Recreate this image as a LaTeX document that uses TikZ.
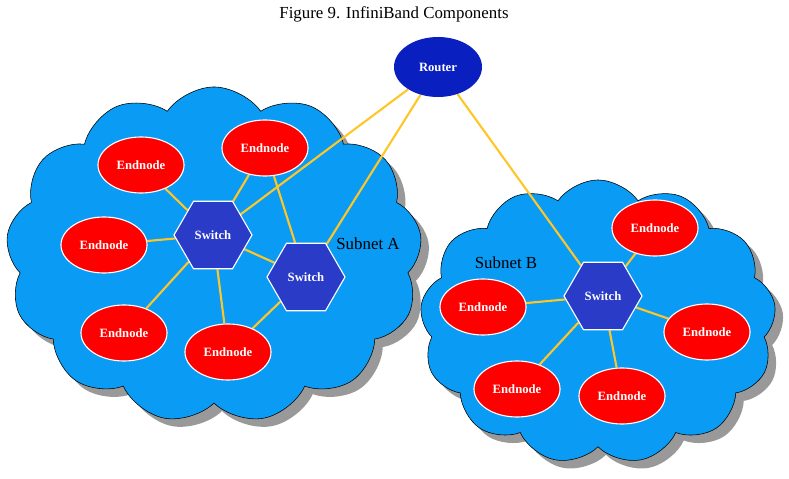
\documentclass[tikz,border=0pt]{standalone}
\usepackage{fontspec}
\setmainfont{Liberation Serif}
\usetikzlibrary{shapes.symbols,shapes.geometric}
\pgfdeclarelayer{back}
\pgfdeclarelayer{mid}
\pgfsetlayers{back,mid,main}
\definecolor{sky}{HTML}{0A9BF5}
\definecolor{routerblue}{HTML}{0A1FBF}
\definecolor{switchblue}{HTML}{2A3BC8}
\definecolor{linkyellow}{HTML}{FFC629}
\tikzset{
  subnet/.style={cloud, cloud puffs=13, cloud puff arc=110, aspect=1.2, draw=black, fill=sky, inner sep=0pt},
  shade/.style={cloud, cloud puffs=13, cloud puff arc=110, aspect=1.2, fill=gray!80, inner sep=0pt},
  endnode/.style={ellipse, fill=red, draw=white, thick, text=white, font=\bfseries\small, minimum width=2.15cm, minimum height=1.4cm, inner sep=0pt},
  switch/.style={regular polygon, regular polygon sides=6, fill=switchblue, draw=white, thick, text=white, font=\bfseries\small, minimum size=1.95cm, inner sep=0pt},
  router/.style={ellipse, fill=routerblue, text=white, font=\bfseries\small, minimum width=2.2cm, minimum height=1.5cm},
  link/.style={linkyellow, line width=1.5pt}
}
\begin{document}
\begin{tikzpicture}[x=0.025cm,y=-0.025cm]
\useasboundingbox (0,0) rectangle (789,479);
\node[font=\large] (title) at (394,14) {Figure 9. InfiniBand Components};
% clouds
\begin{pgfonlayer}{back}
\node[shade, minimum width=10.4cm, minimum height=8.4cm] at (222,263) {};
\node[subnet, minimum width=10.4cm, minimum height=8.4cm] (netA) at (214,255) {};
\node[shade, minimum width=8.9cm, minimum height=7.1cm] at (606,330) {};
\node[subnet, minimum width=8.9cm, minimum height=7.1cm] (netB) at (598,322) {};
\end{pgfonlayer}
\node[font=\large] (labA) at (368,244) {Subnet A};
\node[font=\large] (labB) at (506,263) {Subnet B};
% nodes
\node[router] (r) at (438,67) {Router};
\node[switch] (s1) at (213,235) {Switch};
\node[switch] (s2) at (306,277) {Switch};
\node[switch] (s3) at (603,296) {Switch};
\node[endnode] (a1) at (141,165) {Endnode};
\node[endnode] (a2) at (265,148) {Endnode};
\node[endnode] (a3) at (104,245) {Endnode};
\node[endnode] (a4) at (124,333) {Endnode};
\node[endnode] (a5) at (228,352) {Endnode};
\node[endnode] (b1) at (655,228) {Endnode};
\node[endnode] (b2) at (483,307) {Endnode};
\node[endnode] (b3) at (707,332) {Endnode};
\node[endnode] (b4) at (517,389) {Endnode};
\node[endnode] (b5) at (622,396) {Endnode};
% links
\begin{pgfonlayer}{mid}
\draw[link] (r) -- (s1);
\draw[link] (r) -- (s2);
\draw[link] (r) -- (s3);
\foreach \e in {a1,a2,a3,a4,a5,s2} \draw[link] (s1) -- (\e);
\foreach \e in {a2,a5} \draw[link] (s2) -- (\e);
\foreach \e in {b1,b2,b3,b4,b5} \draw[link] (s3) -- (\e);
\end{pgfonlayer}
\end{tikzpicture}
\end{document}
